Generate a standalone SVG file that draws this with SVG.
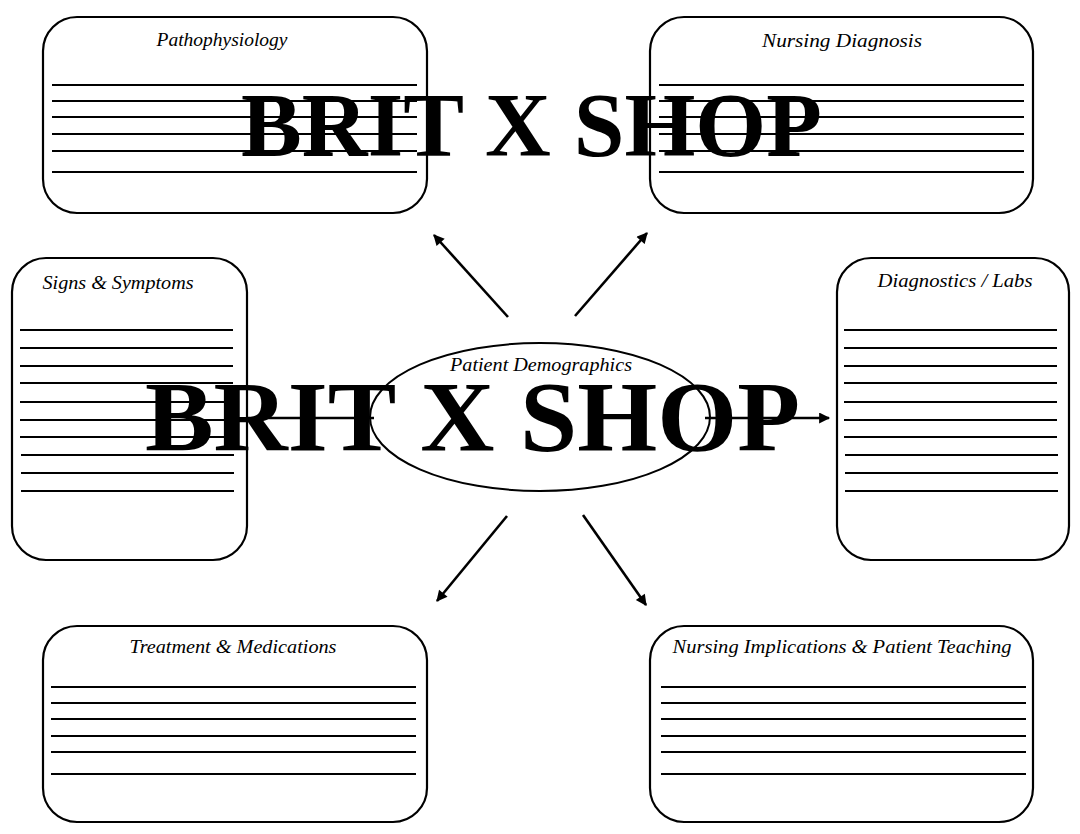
<svg xmlns="http://www.w3.org/2000/svg" width="1080" height="834" viewBox="0 0 1080 834">
<style>
.box{fill:#fff;stroke:#000;stroke-width:2.2}
.rule{stroke:#000;stroke-width:2.2}
.title{font-family:"Liberation Serif","DejaVu Serif",serif;font-style:italic;font-size:18px;fill:#000;text-anchor:middle}
.conn{stroke:#000;stroke-width:2.6;fill:none}
.wm{font-family:"Liberation Serif","DejaVu Serif",serif;font-weight:bold;fill:#000}
</style>
<defs>
<marker id="ah" viewBox="0 0 10 10" refX="9" refY="5" markerWidth="13" markerHeight="11" markerUnits="userSpaceOnUse" orient="auto">
<path d="M0,0 L10,5 L0,10 z" fill="#000"/>
</marker>
</defs>
<rect width="1080" height="834" fill="#fff"/>

<g id="connectors">
<line class="conn" x1="508" y1="317" x2="434" y2="235" marker-end="url(#ah)"/>
<line class="conn" x1="575" y1="316" x2="647" y2="233" marker-end="url(#ah)"/>
<line class="conn" x1="507" y1="516" x2="437" y2="601" marker-end="url(#ah)"/>
<line class="conn" x1="583" y1="515" x2="646" y2="605" marker-end="url(#ah)"/>
<line class="conn" x1="705" y1="418" x2="829" y2="418" marker-end="url(#ah)"/>
<line class="conn" x1="374" y1="418" x2="247" y2="418"/>
</g>

<g id="pathophysiology">
<rect class="box" x="43" y="17" width="384" height="196" rx="34"/>
<text class="title" x="222" y="46" textLength="131" lengthAdjust="spacingAndGlyphs">Pathophysiology</text>
<path class="rule" d="M52 85H417M52 101H417M52 117H417M52 134H417M52 151H417M52 172H417"/>
</g>

<g id="nursing-diagnosis">
<rect class="box" x="650" y="17" width="383" height="196" rx="34"/>
<text class="title" x="842" y="47" textLength="160" lengthAdjust="spacingAndGlyphs">Nursing Diagnosis</text>
<path class="rule" d="M659 85H1024M659 101H1024M659 117H1024M659 134H1024M659 151H1024M659 172H1024"/>
</g>

<g id="signs-symptoms">
<rect class="box" x="12" y="258" width="235" height="302" rx="34"/>
<text class="title" x="118" y="289" textLength="151" lengthAdjust="spacingAndGlyphs">Signs &amp; Symptoms</text>
<path class="rule" d="M20 330H233M20 348H233M20 366H233M20 383H233M20 402H233M20 420H233M20 437H233M21 455H234M21 473H234M21 491H234"/>
</g>

<g id="diagnostics-labs">
<rect class="box" x="837" y="258" width="232" height="302" rx="34"/>
<text class="title" x="955" y="287" textLength="155" lengthAdjust="spacingAndGlyphs">Diagnostics / Labs</text>
<path class="rule" d="M844 330H1057M844 348H1057M844 366H1057M844 383H1057M844 402H1057M844 420H1057M844 437H1057M845 455H1058M845 473H1058M845 491H1058"/>
</g>

<g id="patient-demographics">
<ellipse cx="540" cy="417" rx="170" ry="74" fill="none" stroke="#000" stroke-width="2"/>
<text class="title" x="541" y="371" textLength="182" lengthAdjust="spacingAndGlyphs">Patient Demographics</text>
</g>

<g id="treatment-medications">
<rect class="box" x="43" y="626" width="384" height="196" rx="34"/>
<text class="title" x="233" y="653" textLength="207" lengthAdjust="spacingAndGlyphs">Treatment &amp; Medications</text>
<path class="rule" d="M51 687H416M51 703H416M51 719H416M51 736H416M51 752H416M51 774H416"/>
</g>

<g id="nursing-implications">
<rect class="box" x="650" y="626" width="383" height="196" rx="34"/>
<text class="title" x="842" y="653" textLength="339" lengthAdjust="spacingAndGlyphs">Nursing Implications &amp; Patient Teaching</text>
<path class="rule" d="M661 687H1026M661 703H1026M661 719H1026M661 736H1026M661 752H1026M661 774H1026"/>
</g>

<g id="watermark">
<text class="wm" x="241" y="156" font-size="90" textLength="581" lengthAdjust="spacingAndGlyphs">BRIT X SHOP</text>
<text class="wm" x="145" y="450" font-size="100" textLength="655" lengthAdjust="spacingAndGlyphs">BRIT X SHOP</text>
</g>
</svg>
